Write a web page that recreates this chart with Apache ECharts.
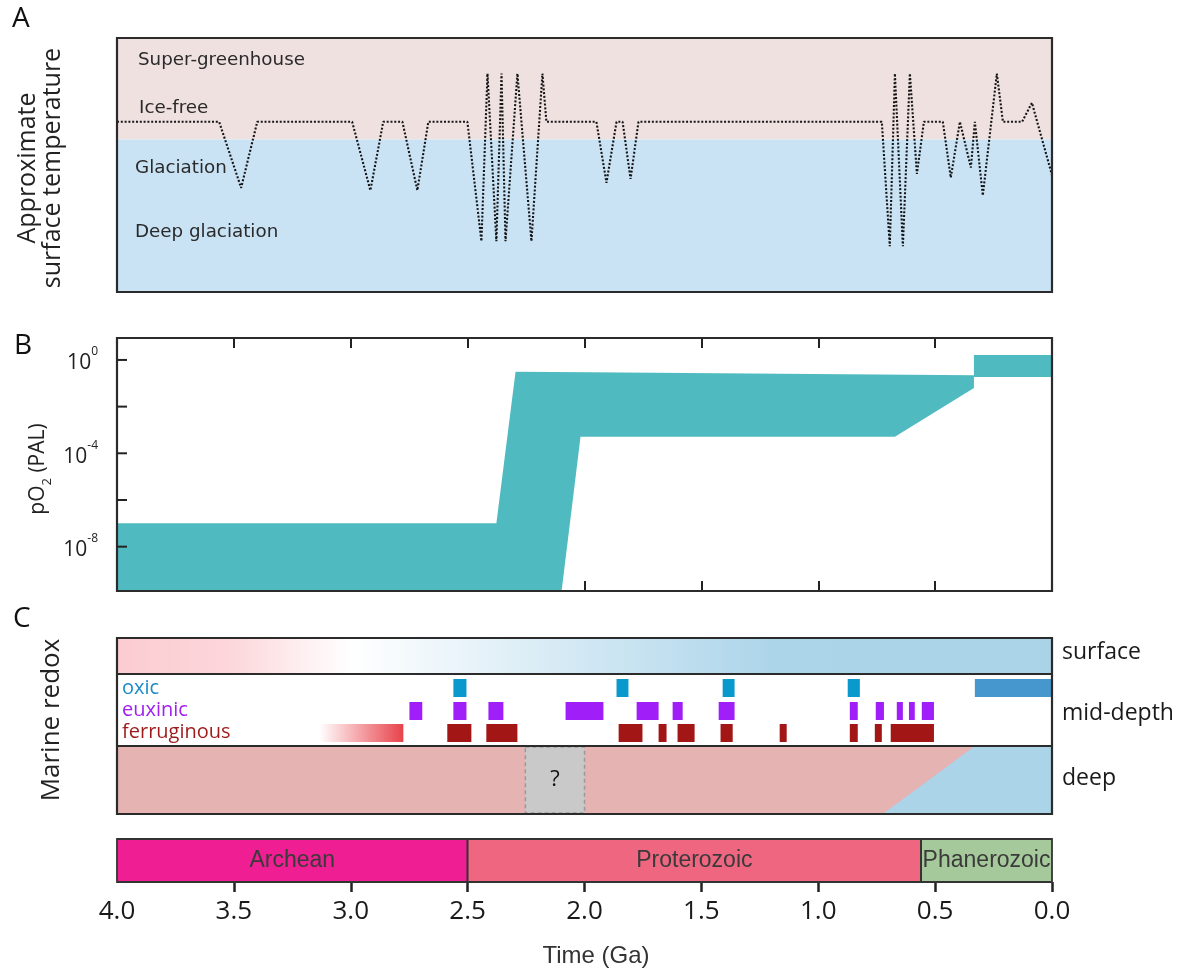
<!DOCTYPE html>
<html><head><meta charset="utf-8">
<script src="https://cdn.jsdelivr.net/npm/echarts@6/dist/echarts.min.js"></script>
<style>html,body{margin:0;padding:0;background:#fff}#c{width:1186px;height:979px}</style>
</head><body><div id="c"></div>
<script>
// ================= DATA =================
const tickLabels = ['4.0','3.5','3.0','2.5','2.0','1.5','1.0','0.5','0.0'];
// Panel A: approximate surface temperature (arbitrary level 0..100)
const tempGa = [4.00,3.563,3.469,3.400,2.994,2.916,2.861,2.779,2.715,2.668,2.501,2.441,2.415,2.377,2.355,2.338,2.287,2.227,2.180,2.163,1.949,1.906,1.863,1.837,1.803,1.769,0.728,0.694,0.672,0.638,0.608,0.578,0.548,0.467,0.433,0.394,0.347,0.330,0.296,0.236,0.210,0.128,0.086,0.0];
const tempLevel = [67,67,41,67,67,40,67,67,40,67,67,20,86,20,86,20,86,20,86,67,67,43,67,67,44.5,67,67,18,86,18,86,46.5,67,67,45,67,49,67,38,86,67,67,74.5,46];
const climateZones = ['Super-greenhouse','Ice-free','Glaciation','Deep glaciation'];
const glacialThreshold = 60;
// Panel B: pO2 envelope (log10 PAL)
const o2BandGa  = [4.0, 2.377, 2.295, 1.98, 0.334, 0.334, 0.672, 2.017, 2.098, 4.0];
const o2BandLog = [-7.0, -7.0, -0.51, -0.53, -0.66, -1.2, -3.29, -3.29, -9.9, -9.9];
const o2PhanGa  = [0.334, 0.0];
const o2PhanLog = [0.21, -0.73];
const o2LabelExp = [0, -4, -8];
const o2TickExp = [0, -2, -4, -6, -8];
// Panel C: marine redox intervals [start Ga, end Ga]
const oxicGa = [[2.561,2.505],[1.863,1.812],[1.409,1.358],[0.874,0.822]];
const oxicPhanGa = [[0.330,0.0]];
const euxinicGa = [[2.749,2.694],[2.561,2.505],[2.411,2.347],[2.081,1.919],[1.777,1.683],[1.623,1.580],[1.426,1.358],[0.865,0.831],[0.754,0.719],[0.664,0.638],[0.612,0.587],[0.557,0.505]];
const ferrugGa = [[2.587,2.484],[2.420,2.287],[1.854,1.752],[1.683,1.649],[1.602,1.529],[1.418,1.366],[1.165,1.135],[0.865,0.831],[0.758,0.728],[0.690,0.505]];
const ferrugFadeGa = [[3.135,2.775]];
const deepOxicBottomGa = 0.724, deepOxicTopGa = 0.330;
const unknownGa = [[2.253,2.0]];
const redoxRows = ['surface','mid-depth','deep'];
const redoxTypes = ['oxic','euxinic','ferruginous'];
// Eons
const eonNames = ['Archean','Proterozoic','Phanerozoic'];
const eonStart = [4.0, 2.5, 0.56];
const eonEnd   = [2.5, 0.56, 0.0];
// ================= STYLE =================
const eonColors = ['#EF1E92','#EF6680','#A6C99B'];
const teal = '#50BAC1';
const FR = 'Open Sans';

const chart = echarts.init(document.getElementById('c'));

const gL = 117, gR = 134;
const grids = [
  {left:gL, right:gR, top:38, height:254},
  {left:gL, right:gR, top:338, height:253},
  {left:gL, right:gR, top:638, height:176},
  {left:gL, right:gR, top:839, height:43}
];
const innerTicks = [0.5,1,1.5,2,2.5,3,3.5];
function xAx(gi, extra){
  return Object.assign({type:'value', gridIndex:gi, min:0, max:4, inverse:true, interval:0.5,
    axisLine:{show:false, onZero:false}, axisTick:{show:false}, axisLabel:{show:false}, splitLine:{show:false}}, extra||{});
}
function yAx(gi, min, max, extra){
  return Object.assign({type:'value', gridIndex:gi, min:min, max:max,
    axisLine:{show:false, onZero:false}, axisTick:{show:false}, axisLabel:{show:false}, splitLine:{show:false}}, extra||{});
}
const tickStyle = {color:'#222', width:2};

// generic rectangles from [startGa,endGa] intervals
function bands(xi, yi, data, yLo, yHi, fill, z, extraStyle){
  return {type:'custom', xAxisIndex:xi, yAxisIndex:yi, z:z||2, silent:true,
    data: data,
    renderItem: function(p, api){
      const a = api.coord([api.value(0), yHi]);
      const b = api.coord([api.value(1), yLo]);
      return {type:'rect', shape:{x:a[0], y:a[1], width:b[0]-a[0], height:b[1]-a[1]},
        style:Object.assign({fill:fill}, extraStyle||{})};
    }};
}
function polygon(xi, yi, xs, ys, fill, z){
  return {type:'custom', xAxisIndex:xi, yAxisIndex:yi, z:z||2, silent:true, data:[[0,0]],
    renderItem: function(p, api){
      return {type:'polygon', shape:{points: xs.map((g,i)=>api.coord([g, ys[i]]))}, style:{fill:fill}};
    }};
}
function frame(xi, yi, yLo, yHi){
  return {type:'custom', xAxisIndex:xi, yAxisIndex:yi, z:30, silent:true, clip:false, data:[[0,0]],
    renderItem: function(p, api){
      const a = api.coord([4, yHi]), b = api.coord([0, yLo]);
      return {type:'rect', shape:{x:a[0], y:a[1], width:b[0]-a[0], height:b[1]-a[1]},
        style:{fill:'none', stroke:'#2b2b2b', lineWidth:2.2}};
    }};
}
function hline(xi, yi, vals){
  return {type:'custom', xAxisIndex:xi, yAxisIndex:yi, z:25, silent:true, data:vals.map(v=>[v]),
    renderItem: function(p, api){
      const a = api.coord([4, api.value(0)]), b = api.coord([0, api.value(0)]);
      return {type:'line', shape:{x1:a[0], y1:a[1], x2:b[0], y2:b[1]}, style:{stroke:'#2b2b2b', lineWidth:1.8}};
    }};
}
// inward ticks on the left edge of panel B
function leftTicks(xi, yi, vals){
  return {type:'custom', xAxisIndex:xi, yAxisIndex:yi, z:31, silent:true, clip:false, data:vals.map(v=>[v]),
    renderItem: function(p, api){
      const a = api.coord([4, api.value(0)]);
      return {type:'line', shape:{x1:a[0], y1:a[1], x2:a[0]+10, y2:a[1]}, style:{stroke:'#222', lineWidth:2}};
    }};
}

const surfGrad = new echarts.graphic.LinearGradient(0,0,1,0,[
  {offset:0,color:'#FBCCD1'},{offset:0.12,color:'#FCD6DA'},{offset:0.25,color:'#FFFFFF'},
  {offset:0.70,color:'#ADD5EA'},{offset:1,color:'#AAD3E8'}]);
const fadeGrad = new echarts.graphic.LinearGradient(0,0,1,0,[
  {offset:0,color:'rgba(232,66,74,0)'},{offset:1,color:'#E8424A'}]);

const series = [
  // ---- Panel A ----
  bands(0,0,[[4,0]], glacialThreshold, 100, '#F0E1E1', 1),
  bands(0,0,[[4,0]], 0, glacialThreshold, '#C9E3F5', 1),
  {type:'line', xAxisIndex:0, yAxisIndex:0, z:5, silent:true, symbol:'none',
   data: tempGa.map((g,i)=>[g, tempLevel[i]]),
   lineStyle:{color:'#151515', width:2.1, type:[2,1.8]}},
  frame(0,0,0,100),
  // ---- Panel B ----
  polygon(1,1,o2BandGa,o2BandLog,teal,2),
  bands(1,1,[o2PhanGa], o2PhanLog[1], o2PhanLog[0], teal, 2),
  frame(1,1,-9.9,0.94),
  leftTicks(1,1,o2TickExp),
  // ---- Panel C ----
  bands(3,2,[[4,0]], 140, 176, surfGrad, 1),
  bands(3,2,[[4,0]], 0, 68, '#ABD4E8', 1),
  polygon(3,2,[4,4,deepOxicTopGa,deepOxicBottomGa],[0,68,68,0],'#E4B3B2',2),
  {type:'custom', xAxisIndex:3, yAxisIndex:2, z:4, silent:true, data:unknownGa,
   renderItem:function(p, api){
     const a = api.coord([api.value(0), 67]), b = api.coord([api.value(1), 1]);
     return {type:'group', children:[
       {type:'rect', shape:{x:a[0], y:a[1], width:b[0]-a[0], height:b[1]-a[1]},
        style:{fill:'#C9C9C9', stroke:'#9a9a9a', lineWidth:1.5, lineDash:[4,3]}},
       {type:'text', x:(a[0]+b[0])/2, y:(a[1]+b[1])/2,
        style:{text:'?', fontSize:22, fontFamily:FR, fill:'#111', align:'center', verticalAlign:'middle'}}]};
   }},
  bands(3,2,oxicGa, 117, 135, '#0A99CD', 3),
  bands(3,2,oxicPhanGa, 117, 135, '#4597CD', 3),
  bands(3,2,euxinicGa, 94, 112, '#A01EF8', 3),
  bands(3,2,ferrugGa, 72, 90, '#A31616', 3),
  bands(3,2,ferrugFadeGa, 72, 90, fadeGrad, 3),
  hline(3,2,[68,140]),
  frame(3,2,0,176),
  // ---- Eons ----
  {type:'custom', xAxisIndex:4, yAxisIndex:3, z:3, silent:true,
   data: eonNames.map((n,i)=>[eonStart[i], eonEnd[i], i]),
   renderItem:function(p, api){
     const i = api.value(2);
     const a = api.coord([api.value(0), 1]), b = api.coord([api.value(1), 0]);
     return {type:'rect', shape:{x:a[0], y:a[1], width:b[0]-a[0], height:b[1]-a[1]},
       style:{fill:eonColors[i], stroke:'#333', lineWidth:1.8},
       textContent:{style:{text:eonNames[i], fontSize:23, fontFamily:'Liberation Sans', fill:'#3a3a3a'}},
       textConfig:{position:'inside'}};
   }}
];

const option = {
  animation:false,
  backgroundColor:'#fff',
  grid: grids,
  xAxis: [
    xAx(0),
    xAx(1,{position:'bottom', axisTick:{show:true, inside:true, length:10, customValues:innerTicks, lineStyle:tickStyle}}),
    xAx(1,{position:'top', axisTick:{show:true, inside:true, length:10, customValues:innerTicks, lineStyle:tickStyle}}),
    xAx(2),
    xAx(3,{position:'bottom',
      axisTick:{show:true, inside:false, length:10, customValues:[0,0.5,1,1.5,2,2.5,3,3.5], lineStyle:{color:'#222', width:2.5}},
      axisLabel:{show:true, margin:17, fontSize:26, fontFamily:FR, color:'#1a1a1a',
        formatter:function(v){ return tickLabels[Math.round((4 - v)/0.5)]; }}})
  ],
  yAxis: [
    yAx(0,0,100),
    yAx(1,-9.9,0.94,{position:'left',
      axisLabel:{show:true, margin:19, customValues:o2LabelExp,
        formatter:function(v){ return '{b|10}{s|' + v + '}'; },
        rich:{b:{fontSize:21, fontFamily:FR, color:'#222', lineHeight:28, verticalAlign:'bottom'},
              s:{fontSize:12, fontFamily:FR, color:'#222', lineHeight:28, verticalAlign:'top'}}}}),
    yAx(2,0,176,{position:'right',
      axisLabel:{show:true, margin:10, customValues:[162,101,36], fontSize:23, fontFamily:FR, color:'#1a1a1a', align:'left',
        formatter:function(v){ return v > 130 ? redoxRows[0] : (v > 60 ? redoxRows[1] : redoxRows[2]); }}}),
    yAx(3,0,1)
  ],
  graphic: [
    {type:'text', z:100, x:12, y:19, style:{text:'A', fontSize:28, fontFamily:FR, fill:'#111', verticalAlign:'middle'}},
    {type:'text', z:100, x:14, y:346, style:{text:'B', fontSize:28, fontFamily:FR, fill:'#111', verticalAlign:'middle'}},
    {type:'text', z:100, x:13, y:619, style:{text:'C', fontSize:28, fontFamily:FR, fill:'#111', verticalAlign:'middle'}},
    {type:'text', z:100, x:40, y:168, rotation:Math.PI/2,
     style:{text:'Approximate\nsurface temperature', fontSize:25, lineHeight:25, fontFamily:FR, fill:'#222', align:'center', verticalAlign:'middle'}},
    {type:'text', z:100, x:41, y:469, rotation:Math.PI/2,
     style:{text:'{a|pO}{s|2}{a| (PAL)}', align:'center', verticalAlign:'middle',
       rich:{a:{fontSize:21, fontFamily:FR, fill:'#222', lineHeight:26, verticalAlign:'top'},
             s:{fontSize:13, fontFamily:FR, fill:'#222', lineHeight:26, verticalAlign:'bottom'}}}},
    {type:'text', z:100, x:52, y:720, rotation:Math.PI/2,
     style:{text:'Marine redox', fontSize:26, fontFamily:FR, fill:'#222', align:'center', verticalAlign:'middle'}},
    {type:'text', z:100, x:138, y:60, style:{text:climateZones[0], fontSize:18.3, fontFamily:'DejaVu Sans', fill:'#2a2a2a', verticalAlign:'middle'}},
    {type:'text', z:100, x:139, y:108, style:{text:climateZones[1], fontSize:18.3, fontFamily:'DejaVu Sans', fill:'#2a2a2a', verticalAlign:'middle'}},
    {type:'text', z:100, x:135, y:168, style:{text:climateZones[2], fontSize:18.3, fontFamily:'DejaVu Sans', fill:'#2a2a2a', verticalAlign:'middle'}},
    {type:'text', z:100, x:135, y:232, style:{text:climateZones[3], fontSize:18.3, fontFamily:'DejaVu Sans', fill:'#2a2a2a', verticalAlign:'middle'}},
    {type:'text', z:100, x:122, y:688, style:{text:redoxTypes[0], fontSize:20, fontFamily:FR, fill:'#1B8BC7', verticalAlign:'middle'}},
    {type:'text', z:100, x:122, y:710, style:{text:redoxTypes[1], fontSize:20, fontFamily:FR, fill:'#A020F0', verticalAlign:'middle'}},
    {type:'text', z:100, x:122, y:732, style:{text:redoxTypes[2], fontSize:20, fontFamily:FR, fill:'#9E1B1B', verticalAlign:'middle'}},
    {type:'text', z:100, x:596, y:956, style:{text:'Time (Ga)', fontSize:24, fontFamily:'Liberation Sans', fill:'#333', align:'center', verticalAlign:'middle'}}
  ],
  series: series
};
chart.setOption(option);
</script></body></html>
